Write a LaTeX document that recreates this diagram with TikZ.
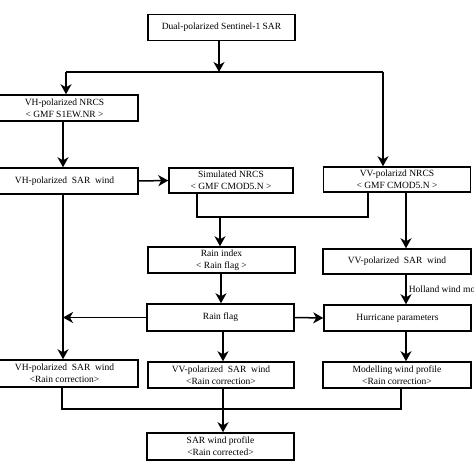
\documentclass[tikz,border=0pt]{standalone}
\usepackage{fontspec}
\setmainfont{Liberation Serif}
\usetikzlibrary{arrows.meta}
\begin{document}
\begin{tikzpicture}[x=1pt, y=-1pt, line width=1.5pt,
  box/.style={draw, align=center, minimum width=147pt, minimum height=26pt, inner sep=1pt, font=\fontsize{9.5}{12}\selectfont},
  arr/.style={-{Stealth[length=10pt,width=11pt,inset=3pt]}}]
\useasboundingbox (0,0) rectangle (474,474);
\clip (0,0) rectangle (474,474);

% Vstup
\node[box] (sar) at (221.5,27.5) {Dual-polarized Sentinel-1 SAR};
\coordinate (jl) at (66,72);
\coordinate (jr) at (383,72);
\draw[arr] (sar.south -| 219,0) -- (219,72);
\draw (jl) -- (jr);

% VH vetev
\node[box] (vhnrcs) at (64.5,108) {VH-polarized NRCS\\< GMF S1EW.NR >};
\node[box] (vhwind) at (64.5,181) {VH-polarized~ SAR~ wind};
\draw[arr] (jl) -- (jl |- vhnrcs.north);
\draw[arr] (vhnrcs.south -| 63,0) -- (vhwind.north -| 63,0);

% Simulace a dest
\node[box, minimum width=124pt, minimum height=25pt] (sim) at (231,180.5) {Simulated NRCS\\< GMF CMOD5.N >};
\node[box, minimum height=25pt] (vvnrcs) at (397,179.5) {VV-polarizd NRCS\\< GMF CMOD5.N >};
\draw[arr] (jr) -- (jr |- vvnrcs.north);
\draw[arr] (vhwind.east) -- (sim.west);
\coordinate (ma) at (197,217);
\coordinate (mb) at (368,217);
\draw (sim.south -| ma) -- (ma) -- (mb) -- (vvnrcs.south -| mb);

\node[box] (rainidx) at (221.5,260) {Rain index\\< Rain flag >};
\node[box, minimum width=148pt, minimum height=25pt] (vvwind) at (397,261.5) {VV-polarized~ SAR~ wind};
\coordinate (cr) at (406,0);
\draw[arr] (220,217) -- (rainidx.north -| 220,0);
\draw[arr] (vvnrcs.south -| cr) -- (vvwind.north -| cr);

% Rain flag a hurikan
\node[box, minimum height=27pt] (rainflag) at (220.5,317.5) {Rain flag};
\node[box] (hurr) at (397.5,318) {Hurricane parameters};
\draw[arr] (rainidx.south -| 221,0) -- (rainflag.north -| 221,0);
\draw[arr] (vvwind.south -| cr) -- (hurr.north -| cr) node[midway, right, inner sep=2pt, font=\fontsize{9.5}{12}\selectfont] {Holland wind model};
\draw[arr] (rainflag.east) -- (hurr.west);
\draw[arr] (rainflag.west) -- (rainflag.west -| 63,0);

% Korekce
\node[box, minimum height=27pt] (vhrc) at (64.5,373.5) {VH-polarized~ SAR~ wind\\<Rain correction>};
\node[box, minimum width=146pt] (vvrc) at (221,375) {VV-polarized~ SAR~ wind\\<Rain correction>};
\node[box, minimum width=148pt] (model) at (397,375) {Modelling wind profile\\<Rain correction>};
\draw[arr] (vhwind.south -| 63,0) -- (vhrc.north -| 63,0);
\draw[arr] (rainflag.south -| 223,0) -- (vvrc.north -| 223,0);
\draw[arr] (hurr.south -| cr) -- (model.north -| cr);

% Vystup
\node[box, minimum height=27pt] (profile) at (220.5,446.5) {SAR wind profile\\<Rain corrected>};
\draw (vhrc.south -| 62,0) -- (62,409) -- (401,409) -- (model.south -| 401,0);
\draw[arr] (vvrc.south -| 223,0) -- (profile.north -| 223,0);
\end{tikzpicture}
\end{document}
